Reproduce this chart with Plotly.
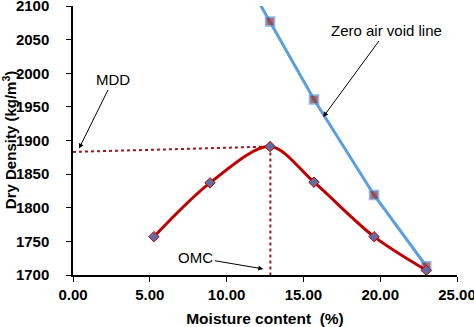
import plotly.graph_objects as go

# Compaction curve data
moisture = [5.27, 8.92, 12.83, 15.69, 19.60, 23.00]
dry_density = [1757, 1837, 1891, 1838, 1757, 1707]

# Zero air void line data (first point lies above the visible range)
zav_moisture = [11.50, 12.83, 15.69, 19.60, 23.00]
zav_density = [2130, 2077, 1961, 1819, 1713]
zav_marker_size = [0, 9, 9, 9, 9]

# MDD / OMC guide lines
mdd_x = [0.0, 12.83]
mdd_y = [1883, 1891]
omc_x = [12.85, 12.85]
omc_y = [1891, 1700]

x_ticks = [0, 5, 10, 15, 20, 25]
x_tick_labels = ["0.00", "5.00", "10.00", "15.00", "20.00", "25.00"]
y_ticks = [1700, 1750, 1800, 1850, 1900, 1950, 2000, 2050, 2100]
y_tick_labels = ["1700", "1750", "1800", "1850", "1900", "1950", "2000", "2050", "2100"]

FONT = "Liberation Sans, Arial"

fig = go.Figure()

fig.add_trace(go.Scatter(x=mdd_x, y=mdd_y, mode="lines",
                         line=dict(color="#A0161C", width=2, dash="dot"),
                         hoverinfo="skip", showlegend=False))
fig.add_trace(go.Scatter(x=omc_x, y=omc_y, mode="lines",
                         line=dict(color="#A0161C", width=2, dash="dot"),
                         hoverinfo="skip", showlegend=False))

fig.add_trace(go.Scatter(x=zav_moisture, y=zav_density, mode="lines+markers",
                         line=dict(color="#5A9FE0", width=3),
                         marker=dict(symbol="square", size=zav_marker_size,
                                     color="#8E2F37",
                                     line=dict(color="#5A9FE0", width=1.5)),
                         showlegend=False))

fig.add_trace(go.Scatter(x=moisture, y=dry_density, mode="lines+markers",
                         line=dict(color="#C00000", width=3, shape="spline", smoothing=0.9),
                         marker=dict(symbol="diamond", size=8, color="#5F6E9E",
                                     line=dict(color="#C00000", width=1)),
                         showlegend=False))

ann_font = dict(family=FONT, size=15, color="black")
arrow = dict(showarrow=True, arrowhead=2, arrowsize=1, arrowwidth=1,
             arrowcolor="black", xref="x", yref="y", axref="x", ayref="y",
             font=ann_font)

fig.add_annotation(x=0.39, y=1888, ax=2.6, ay=1990, text="MDD", **arrow)
fig.add_annotation(x=16.29, y=1935, ax=20.4, ay=2063, text="Zero air void line", **arrow)
fig.add_annotation(x=12.39, y=1709, ax=8.0, ay=1726, text="OMC", **arrow)

# y-axis title as rotated text
fig.add_annotation(x=-0.165, y=0.5, xref="paper", yref="paper",
                   text="<b>Dry Density (kg/m<sup>3</sup>)</b>", textangle=-90,
                   showarrow=False, xanchor="center", yanchor="middle",
                   font=dict(family=FONT, size=15, color="black"))

fig.update_layout(
    width=474, height=327,
    margin=dict(l=73, r=17, t=6, b=52),
    paper_bgcolor="white", plot_bgcolor="white",
    font=dict(family=FONT, color="black"),
    xaxis=dict(range=[0, 25], tickvals=x_ticks,
               ticktext=["<b>%s</b>" % t for t in x_tick_labels],
               showgrid=False, zeroline=False, showline=True,
               linecolor="black", linewidth=1.5, ticks="outside",
               ticklen=5, tickcolor="black", automargin=False,
               ticklabeloverflow="allow",
               tickfont=dict(size=15, family=FONT),
               title=dict(text="<b>Moisture content  (%)</b>", font=dict(size=15.5),
                          standoff=11)),
    yaxis=dict(range=[1700, 2100], tickvals=y_ticks,
               ticktext=["<b>%s</b>" % t for t in y_tick_labels],
               showgrid=False, zeroline=False, showline=True,
               linecolor="black", linewidth=1.5, ticks="outside",
               ticklen=5, tickcolor="black", automargin=False,
               ticklabeloverflow="allow", ticklabelstandoff=14,
               tickfont=dict(size=15, family=FONT)),
)

fig.write_html("out.html")
